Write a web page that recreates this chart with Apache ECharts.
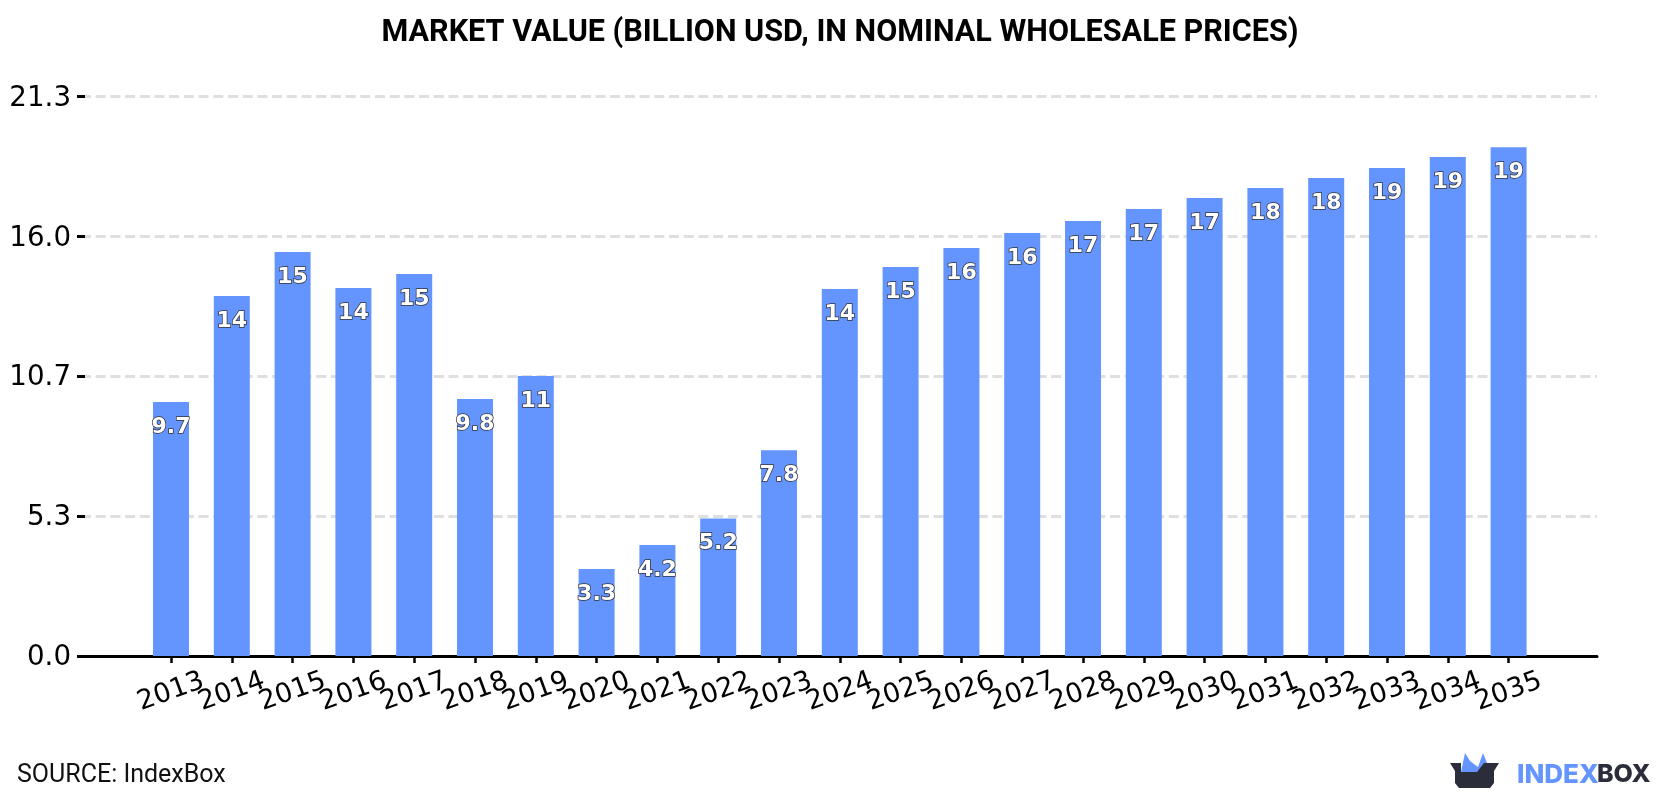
<!DOCTYPE html>
<html>
<head>
<meta charset="utf-8">
<style>html,body{margin:0;padding:0;background:#fff}#chart{width:1680px;height:800px}</style>
<script src="https://cdn.jsdelivr.net/npm/echarts@6/dist/echarts.min.js"></script>
</head>
<body>
<div id="chart"></div>
<script>
// Market value by year, billion USD
const years = ['2013','2014','2015','2016','2017','2018','2019','2020','2021','2022','2023','2024','2025','2026','2027','2028','2029','2030','2031','2032','2033','2034','2035'];
const marketValue = [9.68,13.72,15.4,14.03,14.56,9.8,10.67,3.32,4.23,5.24,7.84,13.99,14.83,15.55,16.13,16.58,17.04,17.46,17.84,18.22,18.6,19.02,19.4];
const yTicks = [0,5.33,10.67,16,21.33];
const yMax = 21.33;
const titleText = 'MARKET VALUE (BILLION USD, IN NOMINAL WHOLESALE PRICES)';
const sourceText = 'SOURCE: IndexBox';

const blue = '#6495ff';
const ink = '#2b2d3a';

const chart = echarts.init(document.getElementById('chart'), null, {renderer:'canvas'});
const shortLabel = v => v < 10 ? v.toFixed(1) : String(Math.round(v));

chart.setOption({
  animation:false,
  backgroundColor:'#fff',
  title:{
    text:titleText,left:'center',top:13,
    textStyle:{fontFamily:'Roboto',fontWeight:'bold',fontSize:30.6,color:'#000'}
  },
  grid:[
    {left:85,right:83,top:96.5,height:559.5},
    {left:140.6,right:141,top:96.5,height:559.5}
  ],
  xAxis:[
    {gridIndex:0,type:'value',min:0,max:1,
      axisLine:{show:true,lineStyle:{color:'#000',width:3}},
      axisTick:{show:false},axisLabel:{show:false},splitLine:{show:false}},
    {gridIndex:1,type:'category',data:years,
      axisLine:{show:false},
      axisTick:{show:true,alignWithLabel:true,length:7,lineStyle:{color:'#000',width:2.5}},
      axisLabel:{interval:0,rotate:20,margin:36,align:'center',verticalAlign:'middle',
        fontFamily:'DejaVu Sans',fontSize:27,color:'#000'},
      splitLine:{show:false}}
  ],
  yAxis:[
    {gridIndex:0,type:'value',min:0,max:yMax,
      axisLine:{show:false},
      axisTick:{show:true,length:8,customValues:yTicks,lineStyle:{color:'#000',width:3}},
      axisLabel:{margin:14,customValues:yTicks,verticalAlign:'top',lineHeight:4,fontFamily:'DejaVu Sans',fontSize:27.7,color:'#000',formatter:v=>v.toFixed(1)},
      splitLine:{show:true,lineStyle:{color:'#dfdfdf',width:3,type:[10,4.7],dashOffset:4}}},
    {gridIndex:1,type:'value',min:0,max:yMax,show:false,splitLine:{show:false}}
  ],
  series:[{
    type:'bar',xAxisIndex:1,yAxisIndex:1,data:marketValue,barWidth:36,
    itemStyle:{color:blue},
    label:{show:true,position:'insideTop',distance:14,formatter:p=>shortLabel(p.value),
      fontFamily:'DejaVu Sans',fontWeight:'bold',fontSize:22,color:'#fff',
      textBorderColor:'#333',textBorderWidth:1.5}
  }],
  graphic:[
    {type:'text',left:17,top:763,style:{text:sourceText,fontFamily:'Roboto',fontSize:25,fill:'#111'}},
    // brand mark: box with a blue crown, followed by the wordmark
    {type:'polygon',shape:{points:[[1461,772],[1465,753],[1470,761],[1478,767],[1483,753],[1487,763],[1487,773],[1478,778],[1461,778]]},style:{fill:blue}},
    {type:'polygon',shape:{points:[[1450,763],[1461,763],[1461,772],[1477,772],[1484,763],[1499,763],[1494,771],[1494,783],[1490,788],[1459,788],[1455,783],[1455,771]]},style:{fill:ink}},
    {type:'text',left:1517,top:762,style:{text:'INDEX',fontFamily:'Inter',fontWeight:800,fontSize:26,fill:blue}},
    {type:'text',left:1597,top:762,style:{text:'BOX',fontFamily:'Inter',fontWeight:800,fontSize:25,fill:ink}}
  ]
});
</script>
</body>
</html>
